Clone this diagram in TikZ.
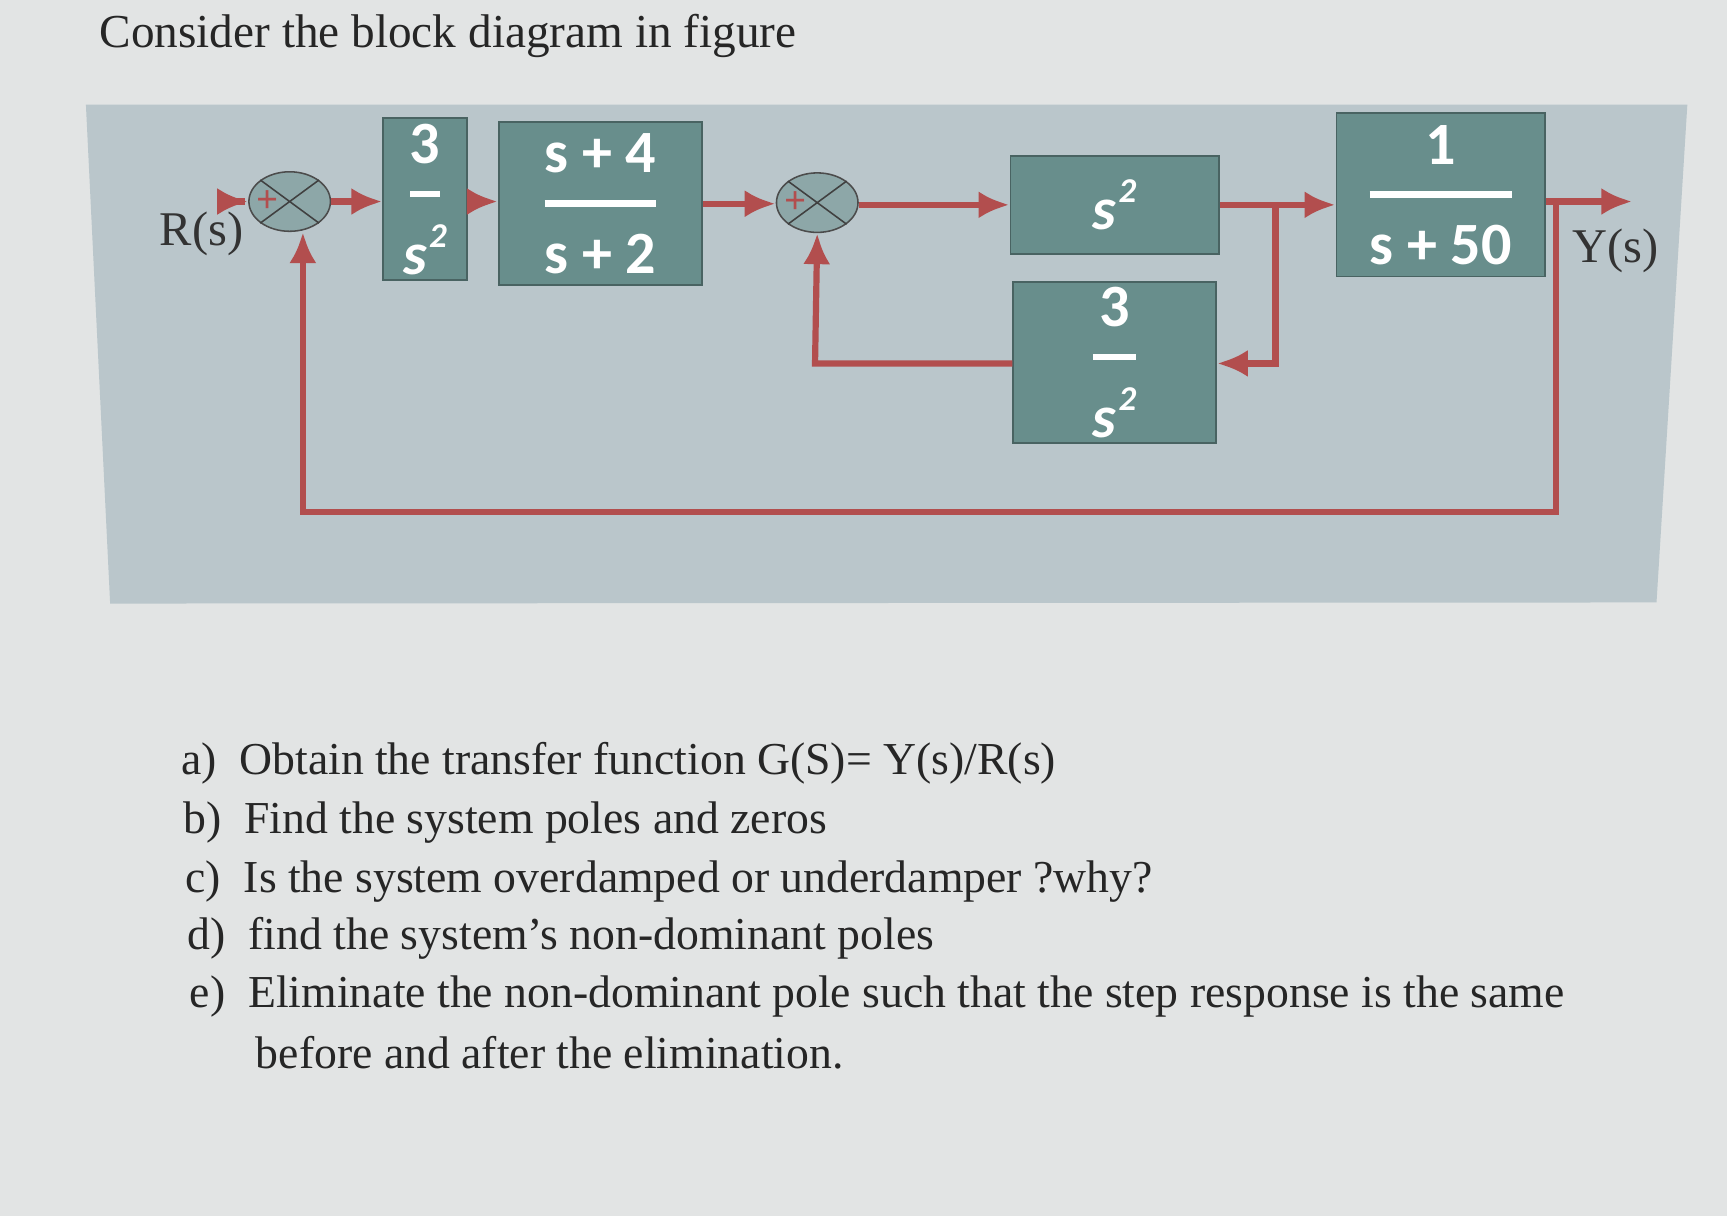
\documentclass[tikz,border=0pt]{standalone}
\usepackage{fontspec}
\setmainfont{Liberation Serif}
\newfontfamily\blk{Carlito}
\usetikzlibrary{arrows.meta,shapes.geometric}
\definecolor{panel}{RGB}{186,198,203}
\definecolor{page}{RGB}{226,228,228}
\definecolor{boxc}{RGB}{104,142,140}
\definecolor{wirec}{RGB}{178,78,78}
\newcommand{\bt}[1]{\hbox{\blk\bfseries #1}}
\newcommand{\ssq}{\hbox{\blk\bfseries\itshape s\kern0.5pt\raise0.45em\hbox{\small 2}}}
\newcommand{\bfr}[2]{\setbox0\hbox{#1}\setbox2\hbox{#2}\dimen0=\ifdim\wd0>\wd2 \wd0\else\wd2\fi
  $\vcenter{\offinterlineskip\halign{\hfil##\hfil\cr\box0\cr\noalign{\vskip7pt}\vrule width\dimen0 height1.6pt\cr\noalign{\vskip7pt}\box2\cr}}$}
\begin{document}
\begin{tikzpicture}[x=0.01cm,y=0.01cm,
  wire/.style={draw=wirec, line width=1.6pt},
  arr/.style={wire,-{Latex[length=8pt,width=7pt]}},
  blockbox/.style={fill=boxc, draw=boxc!70!black, line width=0.5pt, text=white, font=\blk\bfseries\fontsize{15.5}{18}\selectfont, inner sep=0pt},
  sumnode/.style={ellipse, minimum width=0.74cm, minimum height=0.54cm, fill=boxc!55!panel, draw=gray!60!black, inner sep=0pt},
  qtext/.style={anchor=west, font=\fontsize{11.8}{14}\selectfont, text=black!85}]
\fill[page] (0,0) rectangle (1568,-1104);
\useasboundingbox (0,0) rectangle (1568,-1104);
\fill[panel] (78,-95) -- (1532,-95) -- (1504,-547) -- (100,-548) -- cycle;
\node[font=\fontsize{12.2}{15}\selectfont, anchor=west, text=black!85] (title) at (78,-33) {Consider the block diagram in figure};
% blocks
\node[blockbox, minimum width=0.76cm, minimum height=1.47cm] (b1) at (386,-181) {\bfr{\bt{3}}{\ssq}};
\node[blockbox, minimum width=1.84cm, minimum height=1.48cm] (b2) at (545,-185) {\bfr{\bt{s + 4}}{\bt{s + 2}}};
\node[blockbox, minimum width=1.89cm, minimum height=0.89cm] (b3) at (1012,-186) {\ssq};
\node[blockbox, minimum width=1.84cm, minimum height=1.46cm] (b4) at (1012,-329) {\bfr{\bt{3}}{\ssq}};
\node[blockbox, minimum width=1.89cm, minimum height=1.48cm] (b5) at (1308,-177) {\bfr{\bt{1}}{\bt{s + 50}}};
% sums
\node[sumnode] (s1) at (263,-183) {};
\node[sumnode] (s2) at (742,-184) {};
\foreach \s in {s1,s2}{
  \draw[gray!50!black, thin] (\s.north east) -- (\s.south west) (\s.north west) -- (\s.south east);
  \node[text=wirec, font=\bfseries] at ([xshift=-0.2cm]\s.center) {+};
}
\node[font=\fontsize{12.5}{15}\selectfont, text=black!80] (R) at (183,-212) {R(s)};
\node[font=\fontsize{12.5}{15}\selectfont, text=black!80] (Y) at (1467,-228) {Y(s)};
\coordinate (rin) at (222,-183);
\coordinate (yout) at (1482,-183);
\coordinate (tap) at (1413,-183);
\coordinate (br) at (1158,-186);
\draw[arr] (rin) -- (s1.west);
\draw[arr] (s1.east) -- (b1.west |- s1.east);
\draw[arr] (b1.east |- 0,-183) -- (b2.west |- 0,-183);
\draw[arr] (b2.east |- 0,-185) -- (s2.west |- 0,-185);
\draw[arr] (s2.east |- 0,-186) -- (b3.west);
\draw[arr] (b3.east) -- (b5.west |- b3.east);
\draw[arr] (br) -- (1158,-330) -- (b4.east |- 0,-330);
\draw[arr] (b4.west |- 0,-330) -- (740,-330) -- (s2.south);
\draw[arr] (b5.east |- 0,-183) -- (yout);
\draw[arr] (tap) -- (1413,-465) -- (275,-465) -- (s1.south -| 275,0);
% questions
\node[qtext] (qa) at (152,-693) {a)\enspace Obtain the transfer function G(S)= Y(s)/R(s)};
\node[qtext] (qb) at (154,-747) {b)\enspace Find the system poles and zeros};
\node[qtext] (qc) at (156,-800) {c)\enspace Is the system overdamped or underdamper ?why?};
\node[qtext] (qd) at (158,-852) {d)\enspace find the system’s non-dominant poles};
\node[qtext] (qe) at (160,-905) {e)\enspace Eliminate the non-dominant pole such that the step response is the same};
\node[qtext] (qf) at (220,-956) {before and after the elimination.};
\end{tikzpicture}
\end{document}
